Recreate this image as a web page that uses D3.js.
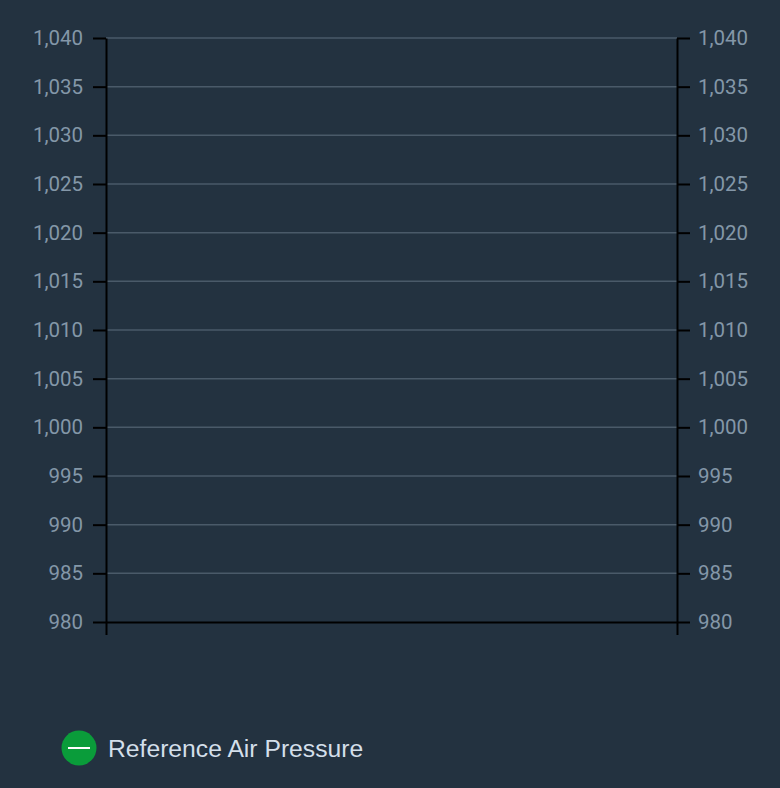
<!DOCTYPE html>
<html>
<head>
<meta charset="utf-8">
<script src="https://cdn.jsdelivr.net/npm/d3@7"></script>
<style>
  html, body { margin: 0; padding: 0; background: #233240; }
  svg { display: block; }
</style>
</head>
<body>
<script>
var width = 780,
    height = 788;

// les donnees
var seriesName = "Reference Air Pressure";
var categories = [];          // pas de points dans la serie
var pressureValues = [];
var yTicks = [980, 985, 990, 995, 1000, 1005, 1010, 1015, 1020, 1025, 1030, 1035, 1040];
var yDomain = [980, 1040];

var margin = {top: 38, right: 103, bottom: 166, left: 106};

var svg = d3.select("body")
    .append("svg")
    .attr("width", width)
    .attr("height", height);

var x = d3.scalePoint()
    .domain(categories.length ? categories : ["a", "b"])
    .range([margin.left, width - margin.right]);

var y = d3.scaleLinear()
    .domain(yDomain)
    .range([height - margin.bottom, margin.top]);

// grille
svg.append("g")
    .selectAll("line")
    .data(yTicks.slice(1))
    .join("line")
    .attr("x1", margin.left)
    .attr("x2", width - margin.right)
    .attr("y1", d => y(d))
    .attr("y2", d => y(d))
    .attr("stroke", "#4a5a69")
    .attr("stroke-width", 1.5);

var fmt = d3.format(",");

// axe gauche
var left = svg.append("g")
    .attr("transform", "translate(" + margin.left + ",0)")
    .call(d3.axisLeft(y).tickValues(yTicks).tickFormat(fmt).tickSize(13).tickPadding(10).tickSizeOuter(0));

// axe droit
var right = svg.append("g")
    .attr("transform", "translate(" + (width - margin.right) + ",0)")
    .call(d3.axisRight(y).tickValues(yTicks).tickFormat(fmt).tickSize(13).tickPadding(8).tickSizeOuter(0));

// axe du bas, juste les deux bouts
var bottom = svg.append("g")
    .attr("transform", "translate(0," + (height - margin.bottom) + ")")
    .call(d3.axisBottom(d3.scaleLinear().range(x.range())).tickValues([0, 1]).tickFormat("").tickSize(13).tickSizeOuter(0));

[left, right, bottom].forEach(function (g) {
    g.select(".domain").attr("stroke", "#000").attr("stroke-width", 2);
    g.selectAll(".tick line").attr("stroke", "#000").attr("stroke-width", 2);
    g.selectAll(".tick text")
        .attr("fill", "#8497a8")
        .style("font-family", "Roboto, sans-serif")
        .style("font-size", "20.5px");
});

// la serie (vide)
var line = d3.line()
    .x((d, i) => x(categories[i]))
    .y(d => y(d));

svg.append("path")
    .datum(pressureValues)
    .attr("fill", "none")
    .attr("stroke", "#0a9c3a")
    .attr("stroke-width", 2)
    .attr("d", pressureValues.length ? line : null);

// legende
var legend = svg.append("g").attr("transform", "translate(79,748)");
legend.append("circle")
    .attr("r", 17.5)
    .attr("fill", "#0a9c3a");
legend.append("line")
    .attr("x1", -11)
    .attr("x2", 11)
    .attr("stroke", "#fff")
    .attr("stroke-width", 2);
legend.append("text")
    .attr("x", 29)
    .attr("y", 9)
    .attr("fill", "#d3dfea")
    .style("font-family", "'Liberation Sans', Helvetica, Arial, sans-serif")
    .style("font-size", "24.7px")
    .text(seriesName);
</script>
</body>
</html>
